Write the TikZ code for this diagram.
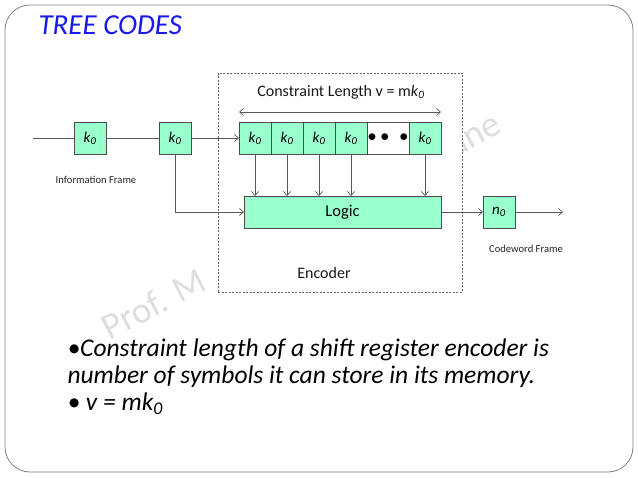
\documentclass[tikz,border=0pt]{standalone}
\usepackage{fontspec}
\setmainfont{Carlito}
\usepackage{tikz}
\usetikzlibrary{positioning}
\usetikzlibrary{arrows.meta}

\definecolor{mint}{RGB}{153,255,204}
\definecolor{titleblue}{RGB}{25,25,235}
\newcommand{\kzero}{\textit{k}\textsubscript{\textit{0}}}
\newcommand{\nzero}{\textit{n}\textsubscript{\textit{0}}}

\begin{document}
\begin{tikzpicture}[x=1pt, y=-1pt, >={Straight Barb[length=4pt,width=7pt]},
  cell/.style={draw=black!70, fill=mint, line width=0.7pt, minimum width=32pt, minimum height=32pt, inner sep=0pt, outer sep=0pt, font=\fontsize{15}{15}\selectfont},
  wire/.style={draw=black!65, line width=0.7pt},
  label/.style={font=\fontsize{10.6}{12}\selectfont, text=black!85},
  big/.style={font=\fontsize{16}{18}\selectfont, text=black!90},
  hand/.style={anchor=base west, font=\fontsize{25.5}{28}\selectfont\itshape},
  wmtext/.style={anchor=base west, text=black!13, font=\fontsize{37}{37}\selectfont}]
\useasboundingbox (0,0) rectangle (638,478);
\draw[black!50, line width=0.8pt, rounded corners=25pt] (5,5) rectangle (633,472);

\node[anchor=base west, text=titleblue, font=\fontsize{29}{30}\selectfont\itshape] (title) at (35,35) {TREE CODES};

% watermark
\node[wmtext, rotate=27] (wmleft) at (106,342) {Prof. M};
\node[wmtext, rotate=29] (wmright) at (452,160) {ane};

% encoder box
\node[draw=black!60, dash pattern=on 2pt off 1.5pt, fill=white, line width=0.7pt, minimum width=244pt, minimum height=219pt] (enc) at (340,182.5) {};
\node[big] (enclabel) at (324,273) {Encoder};

% information frame
\coordinate (in) at (33,138);
\node[cell] (f1) at (90,138) {\kzero};
\node[cell] (f2) at (175,138) {\kzero};
\node[label] (infolabel) at (96,180) {Information Frame};

% shift register
\node[cell] (c1) at (255,138) {\kzero};
\node[cell, right=0pt of c1] (c2) {\kzero};
\node[cell, right=0pt of c2] (c3) {\kzero};
\node[cell, right=0pt of c3] (c4) {\kzero};
\node[cell, fill=white, minimum width=42pt, right=0pt of c4, font=\fontsize{19}{19}\selectfont] (dots) {\textbullet\,\textbullet\enspace\textbullet};
\node[cell, right=0pt of dots] (c5) {\kzero};

\coordinate (lenrow) at (0,112);
\draw[wire, <->] (c1.west |- lenrow) -- (c5.east |- lenrow);
\node[big] (lenlabel) at (341,92) {Constraint Length v = m\kzero};

% logic and output
\node[cell, minimum width=197pt, font=\fontsize{16.5}{17}\selectfont] (logic) at (342.5,212) {Logic};
\node[cell] (n0) at (499,212) {\nzero};
\coordinate (out) at (563,212);
\node[label] (codelabel) at (526,249) {Codeword Frame};

\draw[wire] (in) -- (f1);
\draw[wire] (f1) -- (f2);
\draw[wire, ->] (f2) -- (c1);
\draw[wire, ->] (f2.south) |- (logic.west);
\foreach \c in {c1,c2,c3,c4,c5}
  \draw[wire, ->] (\c.south) -- (\c.south |- logic.north);
\draw[wire, ->] (logic) -- (n0);
\draw[wire, ->] (n0) -- (out);

% bullet text
\node[hand] (line1) at (64,357) {\textbullet Constraint length of a shift register encoder is};
\node[hand] (line2) at (64,384) {number of symbols it can store in its memory.};
\node[hand] (line3) at (64,411) {\textbullet\ v = m\textit{k}\textsubscript{\textit{0}}};
\end{tikzpicture}
\end{document}
